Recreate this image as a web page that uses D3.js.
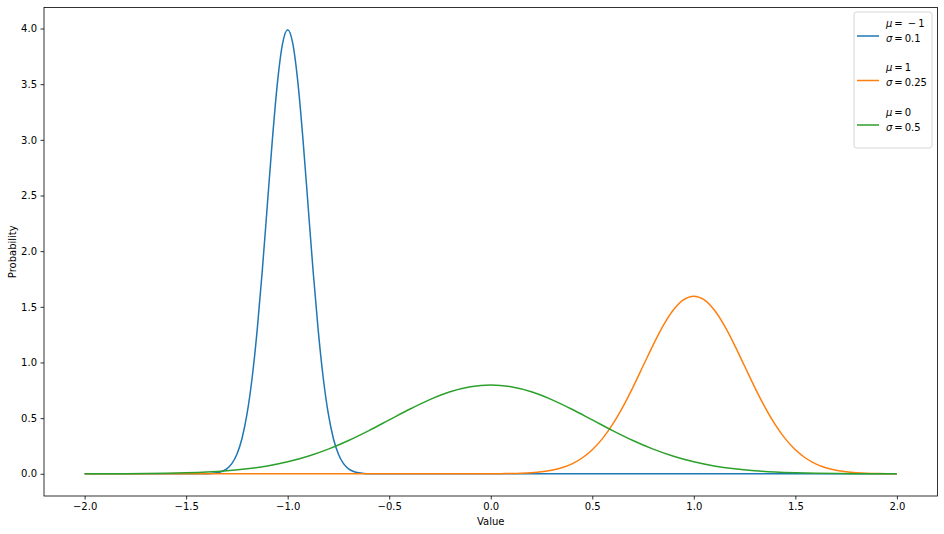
<!DOCTYPE html>
<html>
<head>
<meta charset="utf-8">
<script src="https://cdn.jsdelivr.net/npm/d3@7"></script>
<style>
  body { margin: 0; background: #fff; }
  svg text { font-family: "DejaVu Sans", sans-serif; fill: #000; }
</style>
</head>
<body>
<svg id="chart" width="944" height="534"></svg>
<script>
// values (mu=-1 s=0.1, mu=1 s=0.25, mu=0 s=0.5)
const blueX = [-2, -1.5, -1.4, -1.375, -1.35, -1.325, -1.3, -1.275, -1.25, -1.225, -1.2, -1.175, -1.15, -1.125, -1.1, -1.075, -1.05, -1.025,
  -1.0, -0.975, -0.95, -0.925, -0.9, -0.875, -0.85, -0.825, -0.8, -0.775, -0.75, -0.725, -0.7, -0.675, -0.65, -0.625, -0.6, -0.5, 2];
const blueY = [0, 0, 0.0013, 0.0035, 0.0087, 0.0203, 0.0443, 0.0909, 0.1753, 0.3174, 0.5399, 0.8628, 1.2952, 1.8265, 2.4197, 3.0114, 3.5207, 3.8664,
  3.9894, 3.8664, 3.5207, 3.0114, 2.4197, 1.8265, 1.2952, 0.8628, 0.5399, 0.3174, 0.1753, 0.0909, 0.0443, 0.0203, 0.0087, 0.0035, 0.0013, 0, 0];

const orangeX = [-2, -0.5, 0.0, 0.05, 0.1, 0.15, 0.2, 0.25, 0.3, 0.35, 0.4, 0.45, 0.5, 0.55, 0.6, 0.65, 0.7, 0.75, 0.8, 0.85, 0.9, 0.95,
  1.0, 1.05, 1.1, 1.15, 1.2, 1.25, 1.3, 1.35, 1.4, 1.45, 1.5, 1.55, 1.6, 1.65, 1.7, 1.75, 1.8, 1.85, 1.9, 1.95, 2.0];
const orangeY = [0, 0, 0.0005, 0.0012, 0.0025, 0.0049, 0.0095, 0.0177, 0.0317, 0.0543, 0.0896, 0.1419, 0.2160, 0.3158, 0.4436, 0.5989, 0.7768, 0.9679, 1.1587, 1.3330, 1.4731, 1.5642,
  1.5958, 1.5642, 1.4731, 1.3330, 1.1587, 0.9679, 0.7768, 0.5989, 0.4436, 0.3158, 0.2160, 0.1419, 0.0896, 0.0543, 0.0317, 0.0177, 0.0095, 0.0049, 0.0025, 0.0012, 0.0005];

const greenX = [-2.0, -1.9, -1.8, -1.7, -1.6, -1.5, -1.4, -1.3, -1.2, -1.1, -1.0, -0.9, -0.8, -0.7, -0.6, -0.5, -0.4, -0.3, -0.2, -0.1,
  0.0, 0.1, 0.2, 0.3, 0.4, 0.5, 0.6, 0.7, 0.8, 0.9, 1.0, 1.1, 1.2, 1.3, 1.4, 1.5, 1.6, 1.7, 1.8, 1.9, 2.0];
const greenY = [0.0003, 0.0006, 0.0012, 0.0025, 0.0048, 0.0089, 0.0158, 0.0272, 0.0448, 0.0709, 0.1080, 0.1579, 0.2218, 0.2995, 0.3884, 0.4839, 0.5794, 0.6665, 0.7366, 0.7821,
  0.7979, 0.7821, 0.7366, 0.6665, 0.5794, 0.4839, 0.3884, 0.2995, 0.2218, 0.1579, 0.1080, 0.0709, 0.0448, 0.0272, 0.0158, 0.0089, 0.0048, 0.0025, 0.0012, 0.0006, 0.0003];

const seriesMu = ["\u2002\u2212\u20091", "\u20091", "\u20090"];
const seriesSigma = ["0.1", "0.25", "0.5"];
const seriesColor = ["#1f77b4", "#ff7f0e", "#2ca02c"];

const xTicks = [-2.0, -1.5, -1.0, -0.5, 0.0, 0.5, 1.0, 1.5, 2.0];
const yTicks = [0.0, 0.5, 1.0, 1.5, 2.0, 2.5, 3.0, 3.5, 4.0];

const series = [
  { xs: blueX, ys: blueY },
  { xs: orangeX, ys: orangeY },
  { xs: greenX, ys: greenY }
];

var svg = d3.select("#chart");
const margin = { top: 7.5, right: 6.5, bottom: 38, left: 44 };
const width = 944 - margin.left - margin.right;
const height = 534 - margin.top - margin.bottom;

const x = d3.scaleLinear().domain([-2.2, 2.2]).range([0, width]);
const y = d3.scaleLinear().domain([-0.1995, 4.1888]).range([height, 0]);

const fmt = d => d3.format(".1f")(d).replace("-", "\u2212");

const g = svg.append("g").attr("transform", `translate(${margin.left},${margin.top})`);

// axes
const xAxis = g.append("g")
  .attr("transform", `translate(0,${height})`)
  .call(d3.axisBottom(x).tickValues(xTicks).tickFormat(fmt).tickSize(3.5).tickPadding(3.5));
const yAxis = g.append("g")
  .call(d3.axisLeft(y).tickValues(yTicks).tickFormat(fmt).tickSize(3.5).tickPadding(3.5));
[xAxis, yAxis].forEach(a => {
  a.select(".domain").remove();
  a.selectAll("line").attr("stroke", "#000").attr("stroke-width", 0.8);
  a.selectAll("text").style("font-size", "10px").attr("fill", "#000");
});

// lines
const line = d3.line().x(d => x(d[0])).y(d => y(d[1])).curve(d3.curveMonotoneX);
series.forEach((s, i) => {
  g.append("path")
    .datum(s.xs.map((v, j) => [v, s.ys[j]]))
    .attr("fill", "none")
    .attr("stroke", seriesColor[i])
    .attr("stroke-width", 1.5)
    .attr("d", line);
});

// frame
g.append("rect")
  .attr("width", width).attr("height", height)
  .attr("fill", "none").attr("stroke", "#000").attr("stroke-width", 0.8);

// labels
g.append("text").attr("x", width / 2).attr("y", height + 29)
  .attr("text-anchor", "middle").style("font-size", "10px").text("Value");
g.append("text")
  .attr("transform", `translate(${-28.5},${height / 2}) rotate(-90)`)
  .attr("text-anchor", "middle").style("font-size", "10px").text("Probability");

// legend
const leg = svg.append("g").attr("transform", "translate(854,12)");
leg.append("rect").attr("width", 78).attr("height", 136).attr("rx", 2.5)
  .attr("fill", "#fff").attr("fill-opacity", 0.8).attr("stroke", "#ccc").attr("stroke-width", 0.8);
seriesColor.forEach((c, i) => {
  const cy = 24 + i * 44.5;
  leg.append("line").attr("x1", 3).attr("x2", 25).attr("y1", cy).attr("y2", cy)
    .attr("stroke", c).attr("stroke-width", 1.5);
  const t1 = leg.append("text").attr("x", 32).attr("y", cy - 9.3).style("font-size", "10px");
  t1.append("tspan").style("font-style", "italic").text("\u03bc");
  t1.append("tspan").text("\u2009=" + seriesMu[i]);
  const t2 = leg.append("text").attr("x", 32).attr("y", cy + 5.7).style("font-size", "10px");
  t2.append("tspan").style("font-style", "italic").text("\u03c3");
  t2.append("tspan").text("\u2009=\u2009" + seriesSigma[i]);
});
</script>
</body>
</html>
